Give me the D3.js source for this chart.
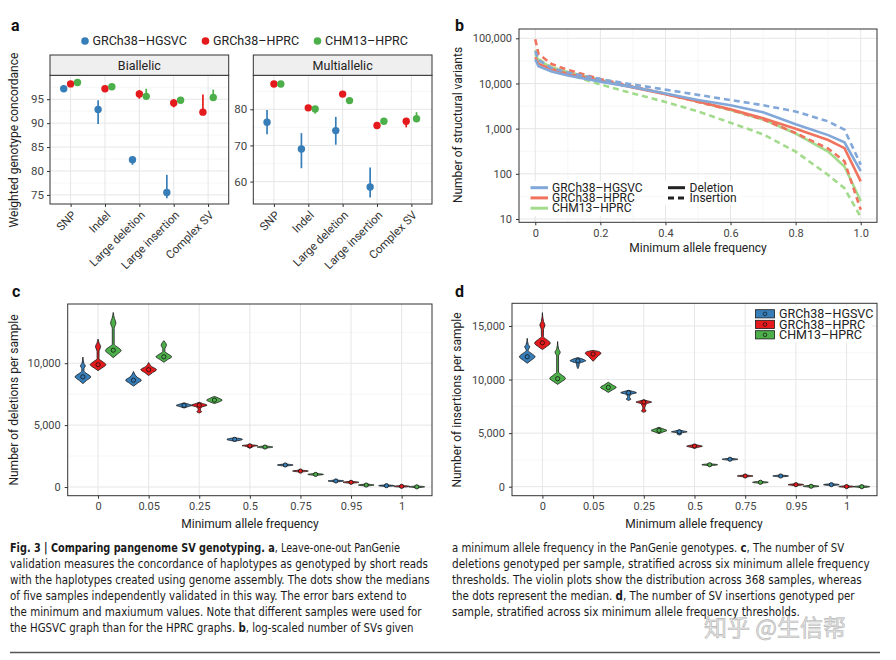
<!DOCTYPE html>
<html lang="en">
<head>
<meta charset="UTF-8">
<script src="https://cdn.jsdelivr.net/npm/d3@7"></script>
<title>Fig. 3</title>
<style>
  body { margin: 0; background: #fff; }
  svg { display: block; font-family: Roboto, "Noto Sans", sans-serif; }
  .ttl { font-size: 12px; fill: #222; }
  .cap { font-family: "Liberation Sans Narrow", "DejaVu Sans Condensed", "Roboto Condensed", sans-serif; font-size: 13px; fill: #1a1a1a; }
</style>
</head>
<body>
<svg id="fig" width="896" height="660"></svg>
<script>
// ---------- data ----------
const groupNames = ["GRCh38–HGSVC", "GRCh38–HPRC", "CHM13–HPRC"];
const groupColors = ["#377eb8", "#e41a1c", "#4daf4a"];
const lineColors = ["#82a7d9", "#f0735f", "#a3db8c"];

// a: [median, min, max] per SV type
const svTypes = ["SNP", "Indel", "Large deletion", "Large insertion", "Complex SV"];
const biHGSVC = [[97.2, 96.9, 97.5], [92.85, 89.8, 94.8], [82.35, 81.3, 82.9], [75.5, 74.3, 79.2], null];
const biHPRC38 = [[98.2, 97.9, 98.5], [97.2, 96.9, 97.5], [96.1, 95.1, 96.9], [94.2, 93.3, 95.0], [92.3, 92.0, 96.0]];
const biCHM13 = [[98.5, 98.2, 98.8], [97.6, 97.3, 97.9], [95.6, 95.0, 97.2], [94.8, 94.5, 95.1], [95.35, 95.0, 97.0]];
const multiHGSVC = [[76.4, 73.1, 79.8], [69.0, 63.7, 73.4], [74.1, 70.2, 77.9], [58.5, 55.6, 63.9], null];
const multiHPRC38 = [[87.0, 86.7, 87.3], [80.4, 79.6, 80.8], [84.2, 83.8, 84.6], [75.5, 75.1, 75.9], [76.7, 75.0, 77.2]];
const multiCHM13 = [[87.0, 86.7, 87.3], [80.1, 78.8, 80.5], [82.4, 82.0, 82.8], [76.7, 76.3, 77.1], [77.4, 76.6, 79.2]];

// b: number of SVs above each minimum allele frequency
const mafSteps = [0, 0.01, 0.05, 0.1, 0.2, 0.3, 0.4, 0.5, 0.6, 0.7, 0.8, 0.9, 0.95, 1.0];
const delHGSVC = [34000, 24000, 18500, 15000, 11000, 8300, 6000, 4300, 3300, 2300, 1250, 720, 500, 115];
const insHGSVC = [52000, 33000, 22000, 17500, 12500, 9500, 7300, 5600, 4300, 3300, 2400, 1450, 950, 160];
const delHPRC38 = [38000, 27000, 21000, 16500, 11500, 8200, 5800, 4000, 2700, 1700, 1000, 560, 370, 68];
const insHPRC38 = [95000, 45000, 27000, 20000, 12500, 8600, 5900, 3900, 2600, 1600, 800, 360, 190, 16];
const delCHM13 = [45000, 32000, 23000, 18000, 12000, 8300, 5900, 4000, 2600, 1600, 780, 310, 145, 25];
const insCHM13 = [55000, 35000, 22000, 16000, 9500, 6000, 3900, 2400, 1350, 750, 310, 94, 48, 11];

// c, d: violins per MAF threshold (median, density knots [value, relative width] or lo/hi)
const mafCats = ["0", "0.05", "0.25", "0.5", "0.75", "0.95", "1"];
const delHGSVCv = [
  {med: 8900, k: [[8350, 0], [8600, 0.45], [8900, 1], [9180, 0.45], [9380, 0.14], [9580, 0.14], [9780, 0.32], [10000, 0.12], [10500, 0]]},
  {med: 8630, k: [[8150, 0], [8380, 0.5], [8630, 1], [8880, 0.45], [9080, 0.2], [9330, 0]]},
  {med: 6590, k: [[6380, 0], [6500, 0.55], [6590, 1], [6690, 0.6], [6800, 0]]},
  {med: 3850, lo: 3700, hi: 3980},
  {med: 1780, lo: 1690, hi: 1860},
  {med: 490, lo: 410, hi: 570},
  {med: 110, lo: 40, hi: 180}
];
const delHPRC38v = [
  {med: 9880, k: [[9400, 0], [9620, 0.5], [9880, 1], [10160, 0.5], [10360, 0.12], [10950, 0.13], [11350, 0.33], [11620, 0.14], [11950, 0]]},
  {med: 9480, k: [[9000, 0], [9240, 0.5], [9480, 1], [9720, 0.4], [9900, 0.15], [10050, 0]]},
  {med: 6610, k: [[5980, 0], [6080, 0.3], [6220, 0.12], [6450, 0.3], [6610, 1], [6750, 0.4], [6850, 0]]},
  {med: 3330, k: [[3130, 0], [3220, 0.3], [3300, 0.6], [3340, 1], [3420, 0]]},
  {med: 1290, lo: 1210, hi: 1370},
  {med: 380, lo: 300, hi: 460},
  {med: 55, lo: -20, hi: 130}
];
const delCHM13v = [
  {med: 11050, k: [[10450, 0], [10720, 0.5], [11020, 1], [11320, 0.5], [11520, 0.12], [12800, 0.12], [13250, 0.34], [13620, 0.15], [14100, 0]]},
  {med: 10520, k: [[10080, 0], [10300, 0.5], [10520, 1], [10760, 0.5], [10960, 0.12], [11200, 0.15], [11450, 0.34], [11680, 0.18], [11820, 0]]},
  {med: 7020, k: [[6740, 0], [6880, 0.6], [7020, 1], [7160, 0.6], [7320, 0]]},
  {med: 3230, lo: 3140, hi: 3320},
  {med: 1020, lo: 940, hi: 1100},
  {med: 160, lo: 80, hi: 240},
  {med: 15, lo: -60, hi: 90}
];
const insHGSVCv = [
  {med: 12130, k: [[11520, 0], [11800, 0.5], [12130, 1], [12460, 0.5], [12700, 0.12], [12880, 0.2], [13060, 0.33], [13260, 0.14], [13850, 0]]},
  {med: 11750, k: [[11020, 0], [11200, 0.12], [11500, 0.18], [11680, 0.8], [11750, 1], [11850, 0.8], [12050, 0]]},
  {med: 8770, k: [[8050, 0], [8180, 0.3], [8330, 0.12], [8630, 0.35], [8770, 1], [8900, 0.5], [9000, 0]]},
  {med: 5130, k: [[4820, 0], [4920, 0.3], [5020, 0.25], [5120, 1], [5210, 0.5], [5290, 0]]},
  {med: 2560, lo: 2470, hi: 2650},
  {med: 1000, lo: 910, hi: 1090},
  {med: 190, lo: 100, hi: 280}
];
const insHPRC38v = [
  {med: 13430, k: [[12800, 0], [13060, 0.5], [13400, 1], [13760, 0.5], [14000, 0.12], [14700, 0.14], [15080, 0.33], [15420, 0.14], [16250, 0]]},
  {med: 12380, k: [[11700, 0], [11900, 0.25], [12180, 0.6], [12450, 1], [12600, 0.8], [12720, 0]]},
  {med: 7900, k: [[6950, 0], [7060, 0.3], [7250, 0.12], [7750, 0.35], [7900, 1], [8010, 0.5], [8110, 0]]},
  {med: 3800, k: [[3560, 0], [3660, 0.35], [3780, 1], [3860, 0.6], [3930, 0]]},
  {med: 1000, lo: 910, hi: 1090},
  {med: 190, lo: 100, hi: 280},
  {med: 10, lo: -80, hi: 100}
];
const insCHM13v = [
  {med: 10080, k: [[9550, 0], [9800, 0.5], [10100, 1], [10440, 0.5], [10700, 0.12], [12200, 0.12], [12550, 0.33], [12860, 0.12], [13550, 0]]},
  {med: 9270, k: [[8800, 0], [9030, 0.5], [9270, 1], [9510, 0.5], [9750, 0]]},
  {med: 5250, k: [[4950, 0], [5100, 0.5], [5250, 1], [5400, 0.5], [5550, 0]]},
  {med: 2050, lo: 1960, hi: 2140},
  {med: 410, lo: 320, hi: 500},
  {med: 40, lo: -50, hi: 130},
  {med: 0, lo: -90, hi: 90}
];

// caption lines: [text, bold]
const capLeft = [
  [["Fig. 3 | Comparing pangenome SV genotyping.", 1], [" a", 1], [", Leave-one-out PanGenie", 0]],
  [["validation measures the concordance of haplotypes as genotyped by short reads", 0]],
  [["with the haplotypes created using genome assembly. The dots show the medians", 0]],
  [["of five samples independently validated in this way. The error bars extend to", 0]],
  [["the minimum and maxiumum values. Note that different samples were used for", 0]],
  [["the HGSVC graph than for the HPRC graphs. ", 0], ["b", 1], [", log-scaled number of SVs given", 0]]
];
const capRight = [
  [["a minimum allele frequency in the PanGenie genotypes. ", 0], ["c", 1], [", The number of SV", 0]],
  [["deletions genotyped per sample, stratified across six minimum allele frequency", 0]],
  [["thresholds. The violin plots show the distribution across 368 samples, whereas", 0]],
  [["the dots represent the median. ", 0], ["d", 1], [", The number of SV insertions genotyped per", 0]],
  [["sample, stratified across six minimum allele frequency thresholds.", 0]]
];
const capLeftEnds = [400, 428, 430, 407, 422, 414];
const capRightEnds = [845, 870, 862, 855, 800];

// ---------- helpers ----------
const svg = d3.select("#fig");
svg.append("rect").attr("width", 896).attr("height", 660).attr("fill", "#fff");

function hLines(g, y, vals, x0, x1, minor) {
  g.selectAll(null).data(vals).enter().append("line")
    .attr("x1", x0).attr("x2", x1).attr("y1", d => y(d)).attr("y2", d => y(d))
    .attr("stroke", minor ? "#f2f2f2" : "#e6e6e6").attr("stroke-width", minor ? 0.7 : 1);
}
function vLines(g, xs, y0, y1, minor) {
  g.selectAll(null).data(xs).enter().append("line")
    .attr("x1", d => d).attr("x2", d => d).attr("y1", y0).attr("y2", y1)
    .attr("stroke", minor ? "#f2f2f2" : "#e6e6e6").attr("stroke-width", minor ? 0.7 : 1);
}
function frame(g, x0, y0, x1, y1) {
  g.append("rect").attr("x", x0).attr("y", y0).attr("width", x1 - x0).attr("height", y1 - y0)
    .attr("fill", "none").attr("stroke", "#333").attr("stroke-width", 1);
}
function styleAxis(a) {
  a.select(".domain").remove();
  a.selectAll(".tick line").attr("stroke", "#333");
  a.selectAll(".tick text").attr("fill", "#444").style("font-size", "11px")
    .style("font-family", "Roboto, sans-serif");
}
function letter(x, y, t) {
  svg.append("text").attr("x", x).attr("y", y).text(t)
    .style("font-size", "16px").style("font-weight", "bold").attr("fill", "#111");
}
function yTitle(x, y, t) {
  svg.append("text").attr("class", "ttl").attr("transform", `translate(${x},${y}) rotate(-90)`)
    .attr("text-anchor", "middle").text(t);
}
function xTitle(x, y, t) {
  svg.append("text").attr("class", "ttl").attr("x", x).attr("y", y).attr("text-anchor", "middle").text(t);
}

// ---------- a ----------
letter(11, 31, "a");
const legA = [85, 205.5, 317.5];
groupNames.forEach((n, i) => {
  svg.append("circle").attr("cx", legA[i]).attr("cy", 41).attr("r", 3.8).attr("fill", groupColors[i]);
  svg.append("text").attr("x", legA[i] + 7.5).attr("y", 45.3).text(n)
    .style("font-size", "12.5px").attr("fill", "#222");
});

const aTop = 75.3, aBot = 204, stripTop = 55;
const aPanels = [
  {name: "Biallelic", x0: 50, x1: 228.7, dom: [73.1, 100], ticks: [75, 80, 85, 90, 95],
   minor: [77.5, 82.5, 87.5, 92.5, 97.5], data: [biHGSVC, biHPRC38, biCHM13]},
  {name: "Multiallelic", x0: 253.3, x1: 432, dom: [53.8, 89.4], ticks: [60, 70, 80],
   minor: [55, 65, 75, 85], data: [multiHGSVC, multiHPRC38, multiCHM13]}
];
aPanels.forEach(p => {
  const x = d3.scalePoint().domain(svTypes).range([p.x0, p.x1]).padding(0.6);
  const y = d3.scaleLinear().domain(p.dom).range([aBot, aTop]);
  const g = svg.append("g");
  hLines(g, y, p.minor, p.x0, p.x1, true);
  hLines(g, y, p.ticks, p.x0, p.x1, false);
  vLines(g, svTypes.map(t => x(t)), aTop, aBot, false);

  svTypes.forEach((t, i) => {
    const present = p.data.map((arr, gi) => ({gi, d: arr[i]})).filter(o => o.d);
    const w = 0.6 / present.length;
    present.forEach((o, j) => {
      const cx = x(t) + (-0.3 + w * (j + 0.5)) * x.step();
      g.append("line").attr("x1", cx).attr("x2", cx)
        .attr("y1", y(o.d[1])).attr("y2", y(o.d[2]))
        .attr("stroke", groupColors[o.gi]).attr("stroke-width", 1.7);
      g.append("circle").attr("cx", cx).attr("cy", y(o.d[0])).attr("r", 3.7)
        .attr("fill", groupColors[o.gi]);
    });
  });

  frame(g, p.x0, aTop, p.x1, aBot);
  g.append("rect").attr("x", p.x0).attr("y", stripTop).attr("width", p.x1 - p.x0)
    .attr("height", aTop - stripTop).attr("fill", "#efefef").attr("stroke", "#333");
  g.append("text").attr("x", (p.x0 + p.x1) / 2).attr("y", 69.5).attr("text-anchor", "middle")
    .text(p.name).style("font-size", "12.5px").attr("fill", "#222");

  const ya = g.append("g").attr("transform", `translate(${p.x0},0)`)
    .call(d3.axisLeft(y).tickValues(p.ticks).tickSize(3).tickPadding(3));
  styleAxis(ya);
  ya.selectAll(".tick text").style("font-size", "11.5px");
  const xa = g.append("g").attr("transform", `translate(0,${aBot})`)
    .call(d3.axisBottom(x).tickSize(3));
  styleAxis(xa);
  xa.selectAll(".tick text").attr("x", 0).attr("y", 0).attr("dy", "0.35em")
    .attr("text-anchor", "end").attr("transform", "translate(3,9) rotate(-45)")
    .style("font-size", "11.5px").attr("fill", "#333");
});
yTitle(18, 140, "Weighted genotype concordance");

// ---------- b ----------
letter(455, 31, "b");
const bL = 519, bR = 877, bT = 29, bB = 222.3;
const bx = d3.scaleLinear().domain([-0.05, 1.05]).range([bL, bR]);
const by = d3.scaleLog().domain([8.45, 160700]).range([bB, bT]);
const gb = svg.append("g");
hLines(gb, by, [Math.pow(10, 1.5), Math.pow(10, 2.5), Math.pow(10, 3.5), Math.pow(10, 4.5)], bL, bR, true);
hLines(gb, by, [10, 100, 1000, 10000, 100000], bL, bR, false);
vLines(gb, [0.1, 0.3, 0.5, 0.7, 0.9].map(bx), bT, bB, true);
vLines(gb, [0, 0.2, 0.4, 0.6, 0.8, 1.0].map(bx), bT, bB, false);

const bSeries = [
  {vals: insCHM13, gi: 2, dash: true}, {vals: delCHM13, gi: 2, dash: false},
  {vals: delHPRC38, gi: 1, dash: false}, {vals: insHPRC38, gi: 1, dash: true},
  {vals: delHGSVC, gi: 0, dash: false}, {vals: insHGSVC, gi: 0, dash: true}
];
const bLine = d3.line().x((d, i) => bx(mafSteps[i])).y(d => by(d));
bSeries.forEach(s => {
  gb.append("path").attr("d", bLine(s.vals)).attr("fill", "none")
    .attr("stroke", lineColors[s.gi]).attr("stroke-width", 2.6)
    .attr("stroke-dasharray", s.dash ? "6,4" : null);
});

// legend b (white boxes hide the grid behind)
gb.append("rect").attr("x", 527).attr("y", 181).attr("width", 100).attr("height", 35).attr("fill", "#fff");
gb.append("rect").attr("x", 664).attr("y", 181).attr("width", 78).attr("height", 24).attr("fill", "#fff");
const legBY = [187.7, 197.9, 208.2];
groupNames.forEach((n, i) => {
  gb.append("line").attr("x1", 530.5).attr("x2", 548).attr("y1", legBY[i]).attr("y2", legBY[i])
    .attr("stroke", lineColors[i]).attr("stroke-width", 3);
  gb.append("text").attr("x", 552).attr("y", legBY[i] + 4.2).text(n)
    .style("font-size", "12px").attr("fill", "#222");
});
[["Deletion", false], ["Insertion", true]].forEach((d, i) => {
  gb.append("line").attr("x1", 668).attr("x2", 685).attr("y1", legBY[i]).attr("y2", legBY[i])
    .attr("stroke", "#222").attr("stroke-width", 3).attr("stroke-dasharray", d[1] ? "6,4" : null);
  gb.append("text").attr("x", 689.5).attr("y", legBY[i] + 4.2).text(d[0])
    .style("font-size", "12px").attr("fill", "#222");
});

frame(gb, bL, bT, bR, bB);
const bya = gb.append("g").attr("transform", `translate(${bL},0)`)
  .call(d3.axisLeft(by).tickValues([10, 100, 1000, 10000, 100000]).tickFormat(d3.format(",")).tickSize(3).tickPadding(4));
styleAxis(bya);
const bxa = gb.append("g").attr("transform", `translate(0,${bB})`)
  .call(d3.axisBottom(bx).tickValues([0, 0.2, 0.4, 0.6, 0.8, 1.0])
    .tickFormat(d => d === 0 ? "0" : d3.format(".1f")(d)).tickSize(3).tickPadding(4));
styleAxis(bxa);
xTitle(698, 252, "Minimum allele frequency");
yTitle(462, 125, "Number of structural variants");

// ---------- c, d ----------
function violinPanel(cfg) {
  const x = d3.scalePoint().domain(mafCats).range([cfg.L, cfg.R]).padding(0.6);
  const y = d3.scaleLinear().domain(cfg.dom).range([cfg.B, cfg.T]);
  const g = svg.append("g");
  hLines(g, y, cfg.minor, cfg.L, cfg.R, true);
  hLines(g, y, cfg.ticks, cfg.L, cfg.R, false);
  vLines(g, mafCats.map(c => x(c)), cfg.T, cfg.B, false);

  const wScale = d3.scaleLinear().domain([0, 1]).range([0, 0.155 * x.step()]);
  cfg.sets.forEach((set, gi) => {
    set.forEach((v, ci) => {
      const cx = x(mafCats[ci]) + (gi - 1) * 0.3 * x.step();
      const knots = v.k || [[v.lo, 0], [v.med, 1], [v.hi, 0]];
      const area = d3.area().curve(d3.curveMonotoneY)
        .y(d => y(d[0])).x0(d => cx - wScale(d[1])).x1(d => cx + wScale(d[1]));
      g.append("path").attr("d", area(knots)).attr("fill", groupColors[gi])
        .attr("stroke", "#1a1a1a").attr("stroke-width", 0.8).attr("stroke-linejoin", "round");
      g.append("circle").attr("cx", cx).attr("cy", y(v.med)).attr("r", 2.1)
        .attr("fill", groupColors[gi]).attr("stroke", "#111").attr("stroke-width", 0.8);
    });
  });
  frame(g, cfg.L, cfg.T, cfg.R, cfg.B);
  const ya = g.append("g").attr("transform", `translate(${cfg.L},0)`)
    .call(d3.axisLeft(y).tickValues(cfg.ticks).tickFormat(d3.format(",")).tickSize(3).tickPadding(4));
  styleAxis(ya);
  const xa = g.append("g").attr("transform", `translate(0,${cfg.B})`)
    .call(d3.axisBottom(x).tickSize(3).tickPadding(4));
  styleAxis(xa);
  return g;
}

letter(12, 297, "c");
violinPanel({L: 67.7, R: 432, T: 304, B: 495.7, dom: [-700, 14782],
  ticks: [0, 5000, 10000], minor: [2500, 7500, 12500],
  sets: [delHGSVCv, delHPRC38v, delCHM13v]});
xTitle(250, 528, "Minimum allele frequency");
yTitle(18, 400, "Number of deletions per sample");

letter(455, 297, "d");
const gd = violinPanel({L: 512, R: 877, T: 303.3, B: 495.7, dom: [-840, 17117],
  ticks: [0, 5000, 10000, 15000], minor: [2500, 7500, 12500],
  sets: [insHGSVCv, insHPRC38v, insCHM13v]});
xTitle(694, 528, "Minimum allele frequency");
yTitle(461, 400, "Number of insertions per sample");

// legend d
gd.append("rect").attr("x", 752).attr("y", 306.5).attr("width", 120).attr("height", 36).attr("fill", "#fff");
const legDY = [309.7, 320.3, 330.7];
groupNames.forEach((n, i) => {
  gd.append("rect").attr("x", 755.5).attr("y", legDY[i]).attr("width", 19).attr("height", 8.2)
    .attr("fill", groupColors[i]).attr("stroke", "#1a1a1a").attr("stroke-width", 0.8);
  gd.append("circle").attr("cx", 765).attr("cy", legDY[i] + 4.1).attr("r", 1.8)
    .attr("fill", groupColors[i]).attr("stroke", "#111").attr("stroke-width", 0.7);
  gd.append("text").attr("x", 779).attr("y", legDY[i] + 8.3).text(n)
    .style("font-size", "12.5px").attr("fill", "#222");
});

// ---------- caption ----------
function captionBlock(lines, x0, ends) {
  lines.forEach((segs, i) => {
    const y = 552 + i * 15.9;
    const t = svg.append("text").attr("class", "cap").attr("transform", `translate(${x0},${y})`);
    segs.forEach(s => {
      t.append("tspan").text(s[0]).style("font-weight", s[1] ? "bold" : "normal");
    });
    const w = t.node().getComputedTextLength();
    t.attr("transform", `translate(${x0},${y}) scale(${(ends[i] - x0) / w},1)`);
  });
}
captionBlock(capLeft, 10, capLeftEnds);
captionBlock(capRight, 452, capRightEnds);

svg.append("text").attr("x", 704).attr("y", 636).text("知乎 @生信帮")
  .style("font-family", "'Noto Sans CJK SC', sans-serif").style("font-size", "23px")
  .attr("fill", "#e2e2e2").attr("stroke", "#a8a8a8").attr("stroke-width", 0.6).attr("opacity", 0.85);

svg.append("line").attr("x1", 10).attr("x2", 880).attr("y1", 652.5).attr("y2", 652.5)
  .attr("stroke", "#555").attr("stroke-width", 1.5);
</script>
</body>
</html>
